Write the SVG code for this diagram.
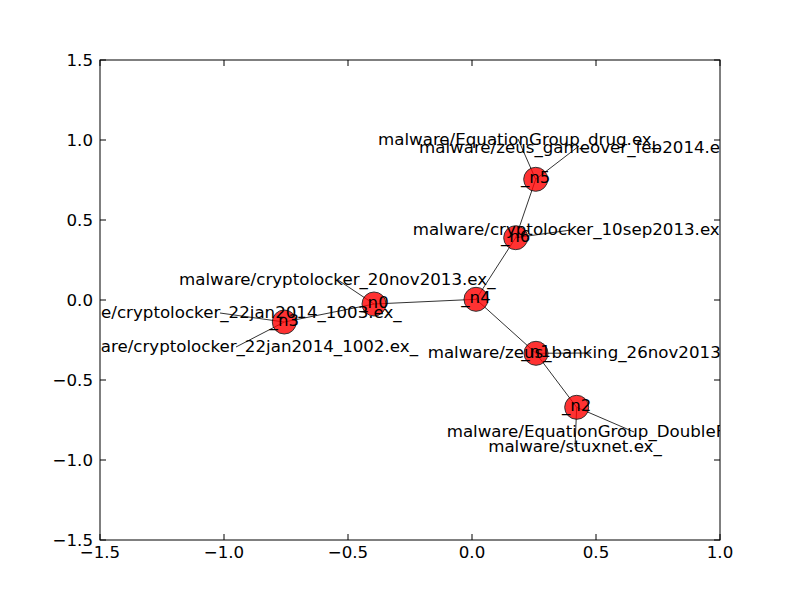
<svg xmlns="http://www.w3.org/2000/svg" width="800" height="600" viewBox="0 0 800 600">
<defs>
<clipPath id="ax"><rect x="100" y="60" width="620" height="480"/></clipPath>
</defs>
<style>
text{font-family:"DejaVu Sans","Liberation Sans",sans-serif;font-size:16.67px;fill:#000}
.tk{stroke:#000;stroke-width:1;fill:none}
.e{stroke:#333;stroke-width:1;fill:none}
.n{fill:#ff0000;stroke:#000;stroke-width:1;opacity:0.8}
.m{text-anchor:middle}
.r{text-anchor:end}
</style>
<rect width="800" height="600" fill="#fff"/>
<g id="axes">
<rect x="100" y="60" width="620" height="480" fill="none" stroke="#000" stroke-width="1"/>
<path class="tk" d="M100,540v-6M224,540v-6M348,540v-6M472,540v-6M596,540v-6M720,540v-6M100,60v6M224,60v6M348,60v6M472,60v6M596,60v6M720,60v6"/>
<path class="tk" d="M100,60h6M100,140h6M100,220h6M100,300h6M100,380h6M100,460h6M100,540h6M720,60h-6M720,140h-6M720,220h-6M720,300h-6M720,380h-6M720,460h-6M720,540h-6"/>
<text class="m" x="100" y="558">−1.5</text>
<text class="m" x="224" y="558">−1.0</text>
<text class="m" x="348" y="558">−0.5</text>
<text class="m" x="472" y="558">0.0</text>
<text class="m" x="596" y="558">0.5</text>
<text class="m" x="720" y="558">1.0</text>
<text class="r" x="93" y="66">1.5</text>
<text class="r" x="93" y="146">1.0</text>
<text class="r" x="93" y="226">0.5</text>
<text class="r" x="93" y="306">0.0</text>
<text class="r" x="93" y="386">−0.5</text>
<text class="r" x="93" y="466">−1.0</text>
<text class="r" x="93" y="546">−1.5</text>
</g>
<g id="connectors" clip-path="url(#ax)">
<path class="e" d="M374,304L476,299.3"/>
<path class="e" d="M374,304L284.3,322"/>
<path class="e" d="M476,299.3L515.7,237.7"/>
<path class="e" d="M515.7,237.7L535.7,179.3"/>
<path class="e" d="M476,299.3L536,353.3"/>
<path class="e" d="M536,353.3L576.7,407.3"/>
<path class="e" d="M535.7,179.3L518,139"/>
<path class="e" d="M535.7,179.3L579,146"/>
<path class="e" d="M515.7,237.7L571,230"/>
<path class="e" d="M374,304L338,280"/>
<path class="e" d="M284.3,322L220,313"/>
<path class="e" d="M284.3,322L236,347"/>
<path class="e" d="M536,353.3L591,353"/>
<path class="e" d="M576.7,407.3L634,432"/>
<path class="e" d="M576.7,407.3L575,447"/>
</g>
<g id="n0"><circle class="n" cx="374" cy="304" r="12"/></g>
<g id="n1"><circle class="n" cx="536" cy="353.3" r="12"/></g>
<g id="n2"><circle class="n" cx="576.7" cy="407.3" r="12"/></g>
<g id="n3"><circle class="n" cx="284.3" cy="322" r="12"/></g>
<g id="n4"><circle class="n" cx="476" cy="299.3" r="12"/></g>
<g id="n5"><circle class="n" cx="535.7" cy="179.3" r="12"/></g>
<g id="n6"><circle class="n" cx="515.7" cy="237.7" r="12"/></g>
<g id="labels" clip-path="url(#ax)">
<text class="m" x="374" y="308">_n0</text>
<text class="m" x="536" y="357.3">_n1</text>
<text class="m" x="576.7" y="411.3">_n2</text>
<text class="m" x="284.3" y="326">_n3</text>
<text class="m" x="476" y="303.3">_n4</text>
<text class="m" x="535.7" y="183.3">_n5</text>
<text class="m" x="515.7" y="241.7">_n6</text>
<text x="378" y="145">malware/EquationGroup_drug.ex_</text>
<text x="419" y="153">malware/zeus_gameover_feb2014.e</text>
<text x="412.7" y="235">malware/cryptolocker_10sep2013.ex</text>
<text x="179" y="285">malware/cryptolocker_20nov2013.ex_</text>
<text class="r" x="401.7" y="318">e/cryptolocker_22jan2014_1003.ex_</text>
<text class="r" x="418" y="352">are/cryptolocker_22jan2014_1002.ex_</text>
<text x="427.7" y="358">malware/zeus_banking_26nov2013</text>
<text x="446.7" y="437">malware/EquationGroup_DoubleF</text>
<text class="m" x="575" y="452">malware/stuxnet.ex_</text>
</g>
</svg>
